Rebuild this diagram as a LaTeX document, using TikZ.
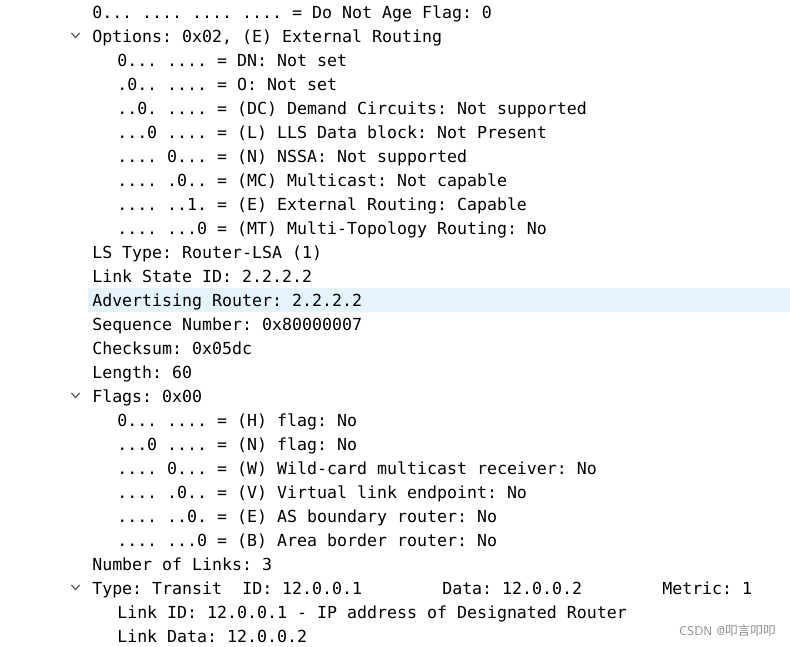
\documentclass[tikz,border=0pt]{standalone}
\usepackage{fontspec}
\setmonofont{DejaVu Sans Mono}
\newfontfamily\cjk{Noto Sans CJK SC}
\definecolor{hl}{HTML}{E5F3FF}
\begin{document}
\begin{tikzpicture}[x=0.75pt,y=-0.75pt,
  ln/.style={anchor=west,inner sep=0pt,text height=10.5pt,text depth=1.5pt,font=\fontsize{12.45pt}{14pt}\ttfamily,text=black},
  chev/.style={draw=black!70,line width=0.8pt}]
\useasboundingbox (0,0) rectangle (790,647);
\fill[hl] (88,288) rectangle (790,312);
\foreach \y/\x/\t [count=\i] in {
12/92/{0... .... .... .... = Do Not Age Flag: 0},
36/92/{Options: 0x02, (E) External Routing},
60/117/{0... .... = DN: Not set},
84/117/{.0.. .... = O: Not set},
108/117/{..0. .... = (DC) Demand Circuits: Not supported},
132/117/{...0 .... = (L) LLS Data block: Not Present},
156/117/{.... 0... = (N) NSSA: Not supported},
180/117/{.... .0.. = (MC) Multicast: Not capable},
204/117/{.... ..1. = (E) External Routing: Capable},
228/117/{.... ...0 = (MT) Multi-Topology Routing: No},
252/92/{LS Type: Router-LSA (1)},
276/92/{Link State ID: 2.2.2.2},
300/92/{Advertising Router: 2.2.2.2},
324/92/{Sequence Number: 0x80000007},
348/92/{Checksum: 0x05dc},
372/92/{Length: 60},
396/92/{Flags: 0x00},
420/117/{0... .... = (H) flag: No},
444/117/{...0 .... = (N) flag: No},
468/117/{.... 0... = (W) Wild-card multicast receiver: No},
492/117/{.... .0.. = (V) Virtual link endpoint: No},
516/117/{.... ..0. = (E) AS boundary router: No},
540/117/{.... ...0 = (B) Area border router: No},
564/92/{Number of Links: 3},
588/92/{Type: Transit},
612/117/{Link ID: 12.0.0.1 - IP address of Designated Router},
636/117/{Link Data: 12.0.0.2}}
{\node[ln] (l\i) at (\x,\y) {\t};}
\node[ln] (tid) at (242,588) {ID: 12.0.0.1};
\node[ln] (tdata) at (442,588) {Data: 12.0.0.2};
\node[ln] (tmet) at (662,588) {Metric: 1};
\foreach \y in {36,396,588}
  \draw[chev] (71.5,\y-3) -- (75.5,\y+1.5) -- (79.5,\y-3);
\node[anchor=east,inner sep=0pt,text=black!45,font=\fontsize{9.5pt}{10pt}\sffamily] (wm) at (776,631) {CSDN @{\cjk 叩言叩叩}};
\end{tikzpicture}
\end{document}
